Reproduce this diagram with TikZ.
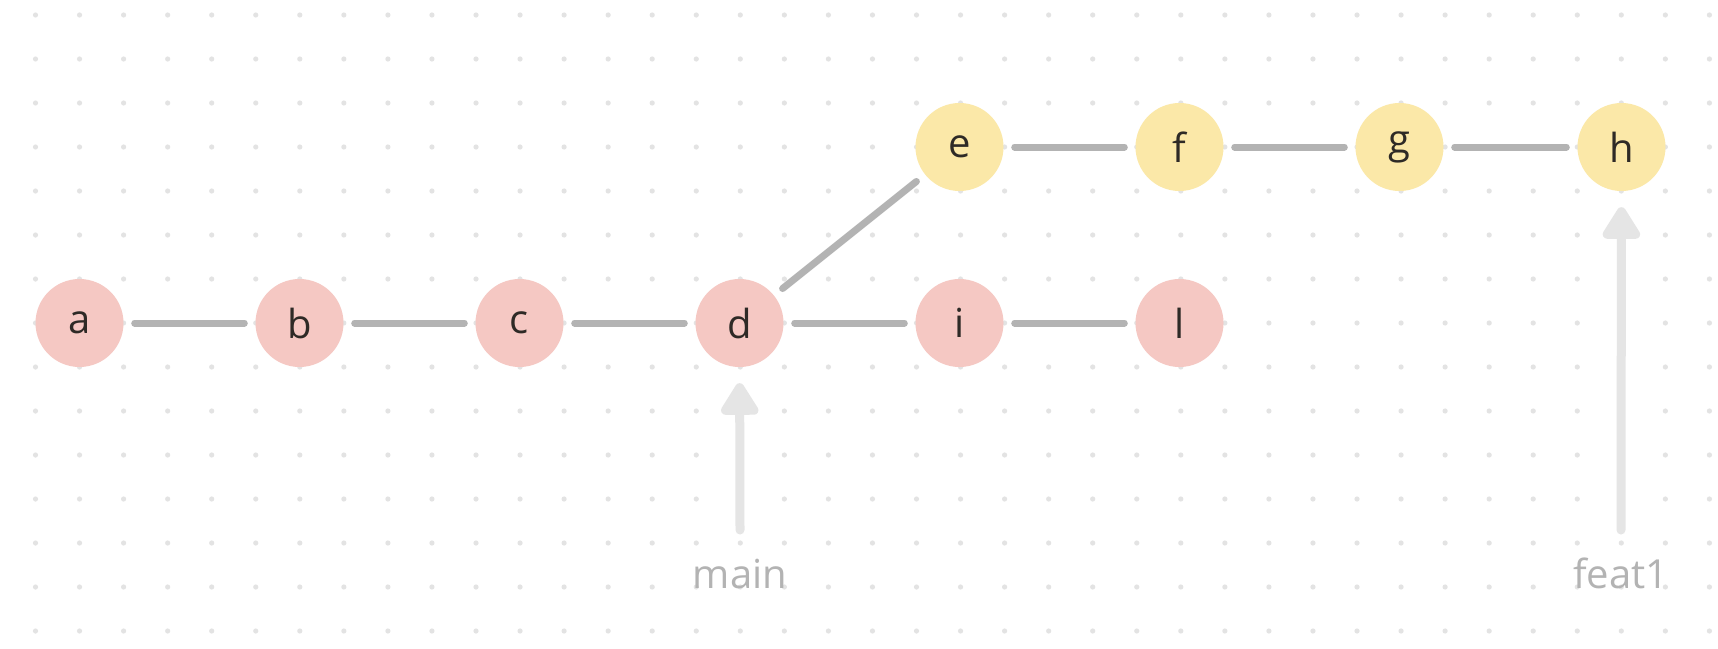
\documentclass[tikz,border=0pt]{standalone}
\usepackage{fontspec}
\setmainfont{Open Sans}
\usetikzlibrary{arrows.meta}
\definecolor{dotc}{HTML}{E3E3E3}
\definecolor{edgec}{HTML}{B3B3B3}
\definecolor{arrc}{HTML}{E5E5E5}
\definecolor{pinkc}{HTML}{F5C8C3}
\definecolor{yelc}{HTML}{FBE8A8}
\definecolor{txtc}{HTML}{2E2A26}
\definecolor{lblc}{HTML}{B3B3B3}
\begin{document}
\begin{tikzpicture}[x=1pt,y=-1pt,
  commit/.style={circle,minimum size=88pt,inner sep=0pt,text=txtc,font=\fontsize{40}{40}\selectfont},
  pinkn/.style={commit,fill=pinkc},
  yeln/.style={commit,fill=yelc},
  edge/.style={draw=edgec,line width=7pt,line cap=round,shorten <=11pt,shorten >=11pt},
  refarrow/.style={draw=arrc,line width=9pt,line cap=round,shorten >=16pt,-{Triangle[width=42pt,length=36pt,round]}},
  reflabel/.style={text=lblc,font=\fontsize{40}{40}\selectfont,anchor=base}]
\useasboundingbox (0,0) rectangle (1718,648);
\fill[white] (0,0) rectangle (1718,648);
\foreach \i in {0,...,38}{\foreach \j in {0,...,14}{
  \fill[dotc] ({35.5+44.05*\i},{15+44*\j}) circle (2.6pt);}}
\node[pinkn] (a) at (79.5,323) {a};
\node[pinkn] (b) at (299.5,323) {b};
\node[pinkn] (c) at (519.5,323) {c};
\node[pinkn] (d) at (739.5,323) {d};
\node[pinkn] (i) at (959.5,323) {i};
\node[pinkn] (l) at (1179.5,323) {l};
\node[yeln] (e) at (959.5,147) {e};
\node[yeln] (f) at (1179.5,147) {f};
\node[yeln] (g) at (1399.5,147) {g};
\node[yeln] (h) at (1621.5,147) {h};
\draw[edge] (a) -- (b);
\draw[edge] (b) -- (c);
\draw[edge] (c) -- (d);
\draw[edge] (d) -- (i);
\draw[edge] (i) -- (l);
\draw[edge] (d) -- (e);
\draw[edge] (e) -- (f);
\draw[edge] (f) -- (g);
\draw[edge] (g) -- (h);
\coordinate (mainend) at (740,530);
\coordinate (featend) at (1621,530);
\draw[refarrow] (mainend) -- (d);
\draw[refarrow] (featend) -- (h);
\node[reflabel] (mainlbl) at (740,588) {main};
\node[reflabel] (featlbl) at (1621,588) {feat1};
\end{tikzpicture}
\end{document}
